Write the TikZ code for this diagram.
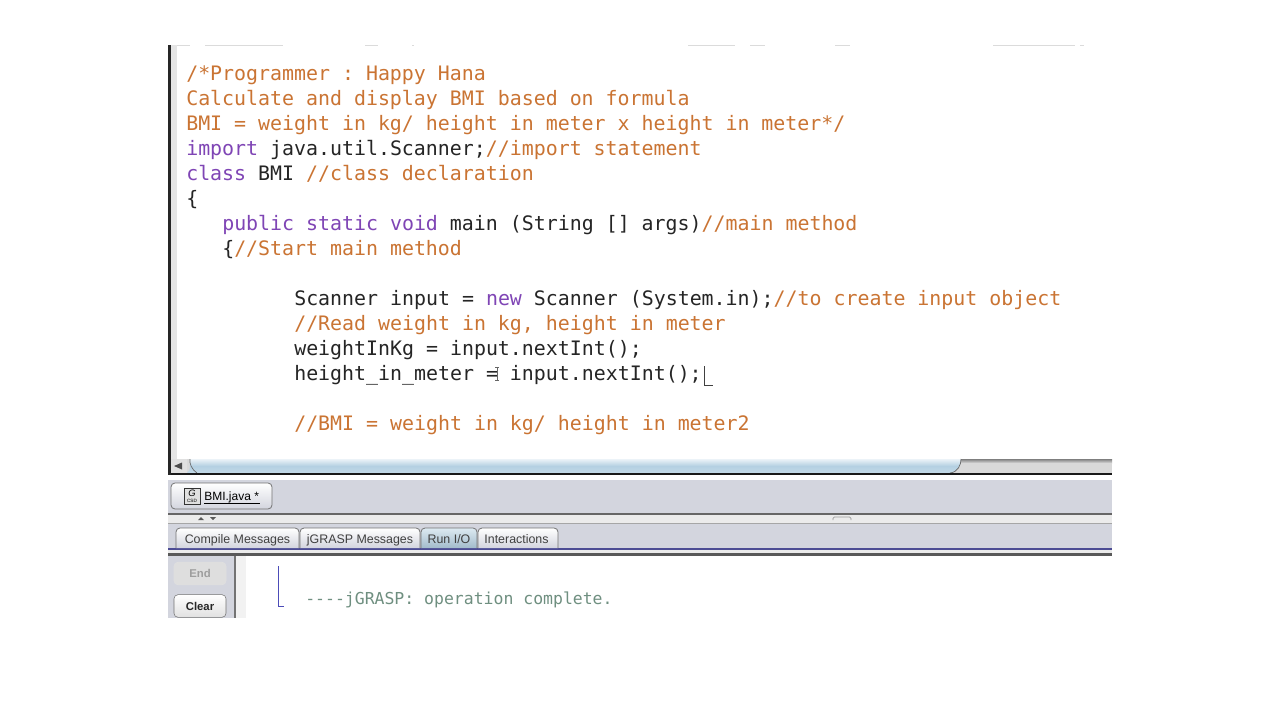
\documentclass[tikz,border=0pt]{standalone}
\usepackage{fontspec}
\setmainfont{Liberation Sans}
\setmonofont{DejaVu Sans Mono}
\definecolor{cmt}{HTML}{CA7433}
\definecolor{kw}{HTML}{7F45B5}
\definecolor{code}{HTML}{252525}
\definecolor{grn}{HTML}{6F8F80}
\definecolor{panel}{HTML}{D3D5DE}
\definecolor{barblue}{HTML}{B4D0E2}
\tikzset{
 codeline/.style={anchor=base west,inner sep=0pt,font=\ttfamily\fontsize{14.93}{18}\selectfont,text=code},
 uilabel/.style={anchor=base,inner sep=0pt,font=\fontsize{9.3}{11}\selectfont,text=black!75},
 tabshape/.style={draw=black!55,line width=0.6pt,rounded corners=3pt,top color=white,bottom color=panel},
 faint/.style={draw=black!14,line width=0.5pt},
}
\newcommand{\cm}[1]{\textcolor{cmt}{#1}}
\newcommand{\kw}[1]{\textcolor{kw}{#1}}
\begin{document}
\begin{tikzpicture}[x=0.75pt,y=-0.75pt]
\useasboundingbox (0,0) rectangle (1280,720);
\fill[white] (0,0) rectangle (1280,720);
% remnants of the line above the crop
\draw[faint] (172,45)--(190,45) (205,45)--(283,45) (365,45)--(378,45) (412,45)--(414,45) (688,45)--(735,45) (750,45)--(765,45) (835,45)--(850,45) (993,45)--(1075,45) (1080,45)--(1084,45);
% left edge of editor
\fill[black!10] (171,45) rectangle (177,459);
% code
\node[codeline] (l1) at (186,81) {\cm{/*Programmer : Happy Hana}};
\node[codeline] (l2) at (186,106) {\cm{Calculate and display BMI based on formula}};
\node[codeline] (l3) at (186,131) {\cm{BMI = weight in kg/ height in meter x height in meter*/}};
\node[codeline] (l4) at (186,156) {\kw{import} java.util.Scanner;\cm{//import statement}};
\node[codeline] (l5) at (186,181) {\kw{class} BMI \cm{//class declaration}};
\node[codeline] (l6) at (186,206) {\{};
\node[codeline] (l7) at (222,231) {\kw{public static void} main (String [] args)\cm{//main method}};
\node[codeline] (l8) at (222,255.4) {\{\cm{//Start main method}};
\node[codeline] (l9) at (294,305.4) {Scanner input = \kw{new} Scanner (System.in);\cm{//to create input object}};
\node[codeline] (l10) at (294,330.4) {\cm{//Read weight in kg, height in meter}};
\node[codeline] (l11) at (294,355.4) {weightInKg = input.nextInt();};
\node[codeline] (l12) at (294,380.4) {height\_in\_meter = input.nextInt();};
\node[codeline] (l13) at (294,430.4) {\cm{//BMI = weight in kg/ height in meter2}};
% caret
\draw[black!75,line width=0.6pt] (704,366) -- (704,385) -- (713,385);
\draw[black!60,line width=0.5pt] (497,367)--(497,380) (495,367)--(499,367) (495,380)--(499,380);
% scrollbar
\fill[black!15] (168,459) rectangle (1112,473);
\shade[top color=black!50,bottom color=black!15] (961,459) rectangle (1112,463);
\fill[black!12] (168,459) rectangle (187,473);
\shade[top color=white!75!barblue,bottom color=barblue!80!white,middle color=barblue] (187,473) .. controls (192,470) and (189,463) .. (190,459) -- (961,459) .. controls (961,465) and (958,472) .. (950,473) -- cycle;
\draw[black!60,line width=0.5pt] (190,459) .. controls (189,463) and (192,470) .. (197,473);
\draw[black!60,line width=0.5pt] (961,459) .. controls (961,465) and (958,472) .. (950,473);
\fill[black!70] (174,466) -- (182,462.5) -- (182,469.5) -- cycle;
\fill[black!90] (168,473) rectangle (1112,475);
\fill[black!85] (168,45) rectangle (171,475);
% document tab bar
\fill[panel] (168,480) rectangle (1112,513);
\fill[black!60] (168,513) rectangle (1112,514.5);
\fill[black!8] (168,514.5) rectangle (1112,523);
\fill[panel] (168,523) rectangle (1112,548);
\fill[black!35] (168,523) rectangle (1112,524);
\fill[black!8] (168,549.5) rectangle (1112,553);
\fill[black!60!blue!70] (168,548) rectangle (1112,549.5);
\fill[black!65] (168,553) rectangle (1112,556);
% doc tab
\draw[tabshape] (171,483) rectangle (272,509);
\node[draw=black!80,line width=0.5pt,fill=white!88!black,inner sep=0pt,minimum width=12pt,minimum height=12pt,align=center,font=\fontsize{7}{5}\selectfont] (icon) at (192,496) {\textit{G}\\[-0.5pt]{\fontsize{3.5}{3.5}\selectfont CSD}};
\node[uilabel,anchor=base west,text=black,font=\fontsize{9}{11}\selectfont] (doclab) at (204,500) {BMI.java *};
\draw[black,line width=0.8pt] (204,503.5) -- (260,503.5);
% splitter marks
\fill[black!65] (198,520) -- (204,520) -- (201,517) -- cycle;
\fill[black!65] (210,517) -- (216,517) -- (213,520) -- cycle;
\draw[black!40,line width=0.6pt,rounded corners=1pt] (833,520) -- (833,517) -- (851,517) -- (851,520);
% tabs
\draw[tabshape] (176,548) -- (176,528) -- (299,528) -- (299,548);
\node[uilabel] (t1l) at (237.5,543) {Compile Messages};
\draw[tabshape] (300,548) -- (300,528) -- (420,528) -- (420,548);
\node[uilabel] (t2l) at (360,543) {jGRASP Messages};
\draw[tabshape,top color=barblue!45!white,bottom color=barblue!90!black] (421,548) -- (421,528) -- (477,528) -- (477,548);
\node[uilabel] (t3l) at (449,543) {Run I/O};
\draw[tabshape] (478,548) -- (478,528) -- (558,528) -- (558,548);
\node[uilabel] (t4l) at (516.5,543) {Interactions};
% side buttons
\fill[panel] (168,556) rectangle (234,618);
\fill[black!55] (234,556) rectangle (236,618);
\fill[black!5] (236,556) rectangle (246,618);
\node[draw=black!12,fill=black!13,rounded corners=3pt,minimum width=39pt,minimum height=17pt,inner sep=0pt,font=\bfseries\fontsize{8.5}{10}\selectfont,text=black!38] (endb) at (200,573.5) {End};
\node[draw=black!55,top color=white,bottom color=black!12,rounded corners=3pt,minimum width=39pt,minimum height=17pt,inner sep=0pt,font=\bfseries\fontsize{8.5}{10}\selectfont,text=black!85] (clr) at (200,606) {Clear};
% output
\draw[black!40!blue!70,line width=0.7pt] (278,566) -- (278,606) -- (284,606);
\node[codeline,text=grn,font=\ttfamily\fontsize{12.35}{16}\selectfont] (out) at (305,604) {----jGRASP: operation complete.};
\end{tikzpicture}
\end{document}
